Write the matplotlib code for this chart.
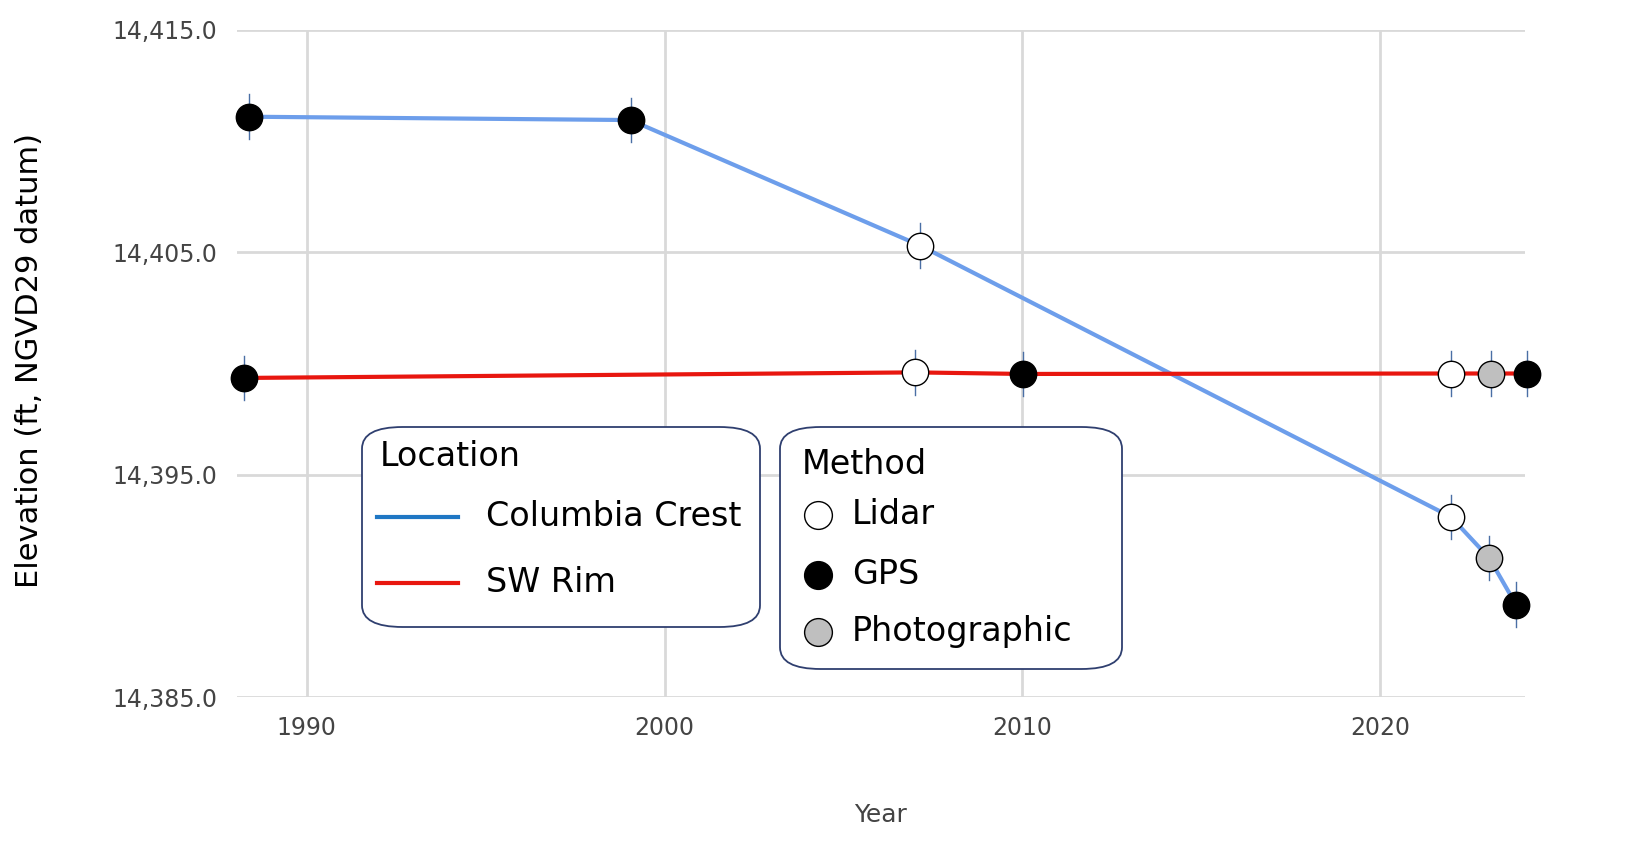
import matplotlib
matplotlib.use("Agg")
import matplotlib.pyplot as plt
from matplotlib.lines import Line2D
from matplotlib.patches import FancyBboxPatch

cc_year = [1988.38, 1999.05, 2007.15, 2021.98, 2023.05, 2023.8]
cc_elev = [14411.1, 14410.95, 14405.3, 14393.1, 14391.25, 14389.15]
cc_method = ["GPS", "GPS", "Lidar", "Lidar", "Photographic", "GPS"]
sw_year = [1988.24, 2007.0, 2010.03, 2021.98, 2023.1, 2024.1]
sw_elev = [14399.35, 14399.6, 14399.53, 14399.55, 14399.55, 14399.55]
sw_method = ["GPS", "Lidar", "GPS", "Lidar", "Photographic", "GPS"]
cc_line_end = (2024.1, 14388.9)
method_color = {"Lidar": "white", "GPS": "black", "Photographic": "#bfbfbf"}
err = 1.0

fig = plt.figure(figsize=(16.26, 8.65), dpi=100)
ax = fig.add_axes([237/1626, 1-697/865, (1525-237)/1626, (697-30)/865])
ax.set_xlim(1988.05, 2024.05)
ax.set_ylim(14385, 14415)
ax.set_xticks([1990, 2000, 2010, 2020])
ax.set_yticks([14385, 14395, 14405, 14415])
ax.set_yticklabels([f"{v:,.1f}" for v in [14385, 14395, 14405, 14415]])
ax.grid(color="#d9d9d9", lw=2)
for s in ax.spines.values():
    s.set_visible(False)
ax.tick_params(length=0, labelsize=17, colors="#444444", pad=14)
ax.set_xlabel("Year", fontsize=18, color="#444444", labelpad=45)
fig.text(30/1626, 1-360/865, "Elevation (ft, NGVD29 datum)", fontsize=22,
         rotation=90, ha="center", va="center")

ax.plot(cc_year + [cc_line_end[0]], cc_elev + [cc_line_end[1]], color="#6d9eeb", lw=3, zorder=2, clip_on=False)
ax.plot(sw_year, sw_elev, color="#e8170f", lw=3, zorder=2, clip_on=False)
for ys, es, ms in [(cc_year, cc_elev, cc_method), (sw_year, sw_elev, sw_method)]:
    for x, y, m in zip(ys, es, ms):
        ax.plot([x, x], [y-err, y+err], color="#4a6fa5", lw=1, zorder=3, clip_on=False)
        ax.plot(x, y, "o", ms=19, mfc=method_color[m], mec="black", mew=1, zorder=4, clip_on=False)

def box(x0, y0, w, h):
    p = FancyBboxPatch((x0/1626, 1-(y0+h)/865), w/1626, h/865,
                       boxstyle="round,pad=0,rounding_size=0.025", transform=fig.transFigure,
                       fc="white", ec="#2f3f6f", lw=1.3, zorder=10)
    fig.patches.append(p)

box(362, 427, 398, 200)
fig.text(380/1626, 1-457/865, "Location", fontsize=24, va="center", zorder=11)
for y, c, t in [(517, "#1f77c4", "Columbia Crest"), (583, "#e8170f", "SW Rim")]:
    fig.add_artist(Line2D([377/1626, 458/1626], [1-y/865]*2, color=c, lw=3, zorder=11))
    fig.text(486/1626, 1-y/865, t, fontsize=24, va="center", zorder=11)

box(780, 427, 342, 242)
fig.text(802/1626, 1-465/865, "Method", fontsize=24, va="center", zorder=11)
for y, m in [(515, "Lidar"), (575, "GPS"), (632, "Photographic")]:
    fig.add_artist(Line2D([818/1626], [1-y/865], marker="o", ms=20, mfc=method_color[m],
                          mec="black", mew=1, zorder=11))
    fig.text(852/1626, 1-y/865, m, fontsize=24, va="center", zorder=11)

fig.savefig("out.png", dpi=100)
